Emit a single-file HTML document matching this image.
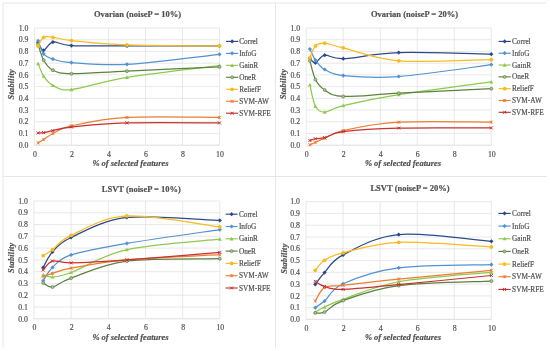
<!DOCTYPE html>
<html><head><meta charset="utf-8">
<style>
html,body{margin:0;padding:0;background:#fff;width:550px;height:351px;overflow:hidden}
svg{display:block;will-change:transform;filter:blur(0.3px)}
text{font-family:"Liberation Serif",serif;fill:#505050;stroke:#505050;stroke-width:0.18px}
.tk{font-size:7.8px}
.lg{font-size:7.3px}
.ti{font-size:8.5px;font-weight:bold}
.at{font-size:8.5px;font-weight:bold;font-style:italic}
.st{font-size:8.2px;letter-spacing:0.3px}
</style></head><body>
<svg width="550" height="351" viewBox="0 0 550 351">
<rect width="550" height="351" fill="#fff"/>
<line x1="3" y1="3" x2="546.5" y2="3" stroke="#E6E6E6" stroke-width="1"/>
<line x1="3" y1="3" x2="3" y2="347.5" stroke="#E6E6E6" stroke-width="1"/>
<line x1="275.5" y1="3" x2="275.5" y2="347.5" stroke="#E6E6E6" stroke-width="1"/>
<line x1="3" y1="176.5" x2="546.5" y2="176.5" stroke="#E6E6E6" stroke-width="1"/>
<line x1="34.4" y1="145.2" x2="219.5" y2="145.2" stroke="#D6D6D6" stroke-width="0.8"/>
<line x1="34.4" y1="133.48" x2="219.5" y2="133.48" stroke="#E2E2E2" stroke-width="0.8"/>
<line x1="34.4" y1="121.76" x2="219.5" y2="121.76" stroke="#E2E2E2" stroke-width="0.8"/>
<line x1="34.4" y1="110.04" x2="219.5" y2="110.04" stroke="#E2E2E2" stroke-width="0.8"/>
<line x1="34.4" y1="98.32" x2="219.5" y2="98.32" stroke="#E2E2E2" stroke-width="0.8"/>
<line x1="34.4" y1="86.6" x2="219.5" y2="86.6" stroke="#E2E2E2" stroke-width="0.8"/>
<line x1="34.4" y1="74.88" x2="219.5" y2="74.88" stroke="#E2E2E2" stroke-width="0.8"/>
<line x1="34.4" y1="63.16" x2="219.5" y2="63.16" stroke="#E2E2E2" stroke-width="0.8"/>
<line x1="34.4" y1="51.44" x2="219.5" y2="51.44" stroke="#E2E2E2" stroke-width="0.8"/>
<line x1="34.4" y1="39.72" x2="219.5" y2="39.72" stroke="#E2E2E2" stroke-width="0.8"/>
<line x1="34.4" y1="28" x2="219.5" y2="28" stroke="#E2E2E2" stroke-width="0.8"/>
<line x1="34.4" y1="28" x2="34.4" y2="145.2" stroke="#E2E2E2" stroke-width="0.8"/>
<line x1="71.42" y1="28" x2="71.42" y2="145.2" stroke="#E2E2E2" stroke-width="0.8"/>
<line x1="108.44" y1="28" x2="108.44" y2="145.2" stroke="#E2E2E2" stroke-width="0.8"/>
<line x1="145.46" y1="28" x2="145.46" y2="145.2" stroke="#E2E2E2" stroke-width="0.8"/>
<line x1="182.48" y1="28" x2="182.48" y2="145.2" stroke="#E2E2E2" stroke-width="0.8"/>
<line x1="219.5" y1="28" x2="219.5" y2="145.2" stroke="#E2E2E2" stroke-width="0.8"/>
<text x="28.4" y="147.9" text-anchor="end" class="tk">0.0</text>
<text x="28.4" y="136.18" text-anchor="end" class="tk">0.1</text>
<text x="28.4" y="124.46" text-anchor="end" class="tk">0.2</text>
<text x="28.4" y="112.74" text-anchor="end" class="tk">0.3</text>
<text x="28.4" y="101.02" text-anchor="end" class="tk">0.4</text>
<text x="28.4" y="89.3" text-anchor="end" class="tk">0.5</text>
<text x="28.4" y="77.58" text-anchor="end" class="tk">0.6</text>
<text x="28.4" y="65.86" text-anchor="end" class="tk">0.7</text>
<text x="28.4" y="54.14" text-anchor="end" class="tk">0.8</text>
<text x="28.4" y="42.42" text-anchor="end" class="tk">0.9</text>
<text x="28.4" y="30.7" text-anchor="end" class="tk">1.0</text>
<text x="34.9" y="157.2" text-anchor="middle" class="tk">0</text>
<text x="71.92" y="157.2" text-anchor="middle" class="tk">2</text>
<text x="108.94" y="157.2" text-anchor="middle" class="tk">4</text>
<text x="145.96" y="157.2" text-anchor="middle" class="tk">6</text>
<text x="182.98" y="157.2" text-anchor="middle" class="tk">8</text>
<text x="220" y="157.2" text-anchor="middle" class="tk">10</text>
<path d="M38.1,42.53 C39.03,43.82 41.19,50.35 43.66,50.27 C46.12,50.19 48.28,42.85 52.91,42.06 C57.54,41.28 59.08,44.94 71.42,45.58 C83.76,46.22 102.27,45.87 126.95,45.93 C151.63,45.99 204.07,45.93 219.5,45.93" fill="none" stroke="#2C4A8A" stroke-width="1.25"/>
<path d="M38.1,40.43 L40.2,42.53 L38.1,44.63 L36,42.53 Z" fill="#2C4A8A"/>
<path d="M43.66,48.17 L45.76,50.27 L43.66,52.37 L41.55,50.27 Z" fill="#2C4A8A"/>
<path d="M52.91,39.96 L55.01,42.06 L52.91,44.16 L50.81,42.06 Z" fill="#2C4A8A"/>
<path d="M71.42,43.48 L73.52,45.58 L71.42,47.68 L69.32,45.58 Z" fill="#2C4A8A"/>
<path d="M126.95,43.83 L129.05,45.93 L126.95,48.03 L124.85,45.93 Z" fill="#2C4A8A"/>
<path d="M219.5,43.83 L221.6,45.93 L219.5,48.03 L217.4,45.93 Z" fill="#2C4A8A"/>
<path d="M38.1,40.89 C39.03,43.04 41.19,50.76 43.66,53.78 C46.12,56.81 48.28,57.59 52.91,59.06 C57.54,60.52 59.08,61.69 71.42,62.57 C83.76,63.45 102.27,65.7 126.95,64.33 C151.63,62.96 204.07,56.03 219.5,54.37" fill="none" stroke="#5392D2" stroke-width="1.25"/>
<path d="M38.1,38.79 L40.2,40.89 L38.1,42.99 L36,40.89 Z" fill="#5392D2"/>
<path d="M43.66,51.68 L45.76,53.78 L43.66,55.88 L41.55,53.78 Z" fill="#5392D2"/>
<path d="M52.91,56.96 L55.01,59.06 L52.91,61.16 L50.81,59.06 Z" fill="#5392D2"/>
<path d="M71.42,60.47 L73.52,62.57 L71.42,64.67 L69.32,62.57 Z" fill="#5392D2"/>
<path d="M126.95,62.23 L129.05,64.33 L126.95,66.43 L124.85,64.33 Z" fill="#5392D2"/>
<path d="M219.5,52.27 L221.6,54.37 L219.5,56.47 L217.4,54.37 Z" fill="#5392D2"/>
<path d="M38.1,63.63 C39.03,65.7 41.19,72.42 43.66,76.05 C46.12,79.69 48.28,83.18 52.91,85.43 C57.54,87.67 59.08,90.88 71.42,89.53 C83.76,88.18 102.27,81.35 126.95,77.34 C151.63,73.34 204.07,67.48 219.5,65.5" fill="none" stroke="#8DCA4E" stroke-width="1.25"/>
<path d="M38.1,61.63 L40.1,65.23 L36.1,65.23 Z" fill="#8DCA4E"/>
<path d="M43.66,74.05 L45.66,77.65 L41.66,77.65 Z" fill="#8DCA4E"/>
<path d="M52.91,83.43 L54.91,87.03 L50.91,87.03 Z" fill="#8DCA4E"/>
<path d="M71.42,87.53 L73.42,91.13 L69.42,91.13 Z" fill="#8DCA4E"/>
<path d="M126.95,75.34 L128.95,78.94 L124.95,78.94 Z" fill="#8DCA4E"/>
<path d="M219.5,63.5 L221.5,67.1 L217.5,67.1 Z" fill="#8DCA4E"/>
<path d="M38.1,44.41 C39.03,47.05 41.19,55.93 43.66,60.23 C46.12,64.53 48.28,67.95 52.91,70.19 C57.54,72.44 59.08,73.55 71.42,73.71 C83.76,73.86 102.27,72.26 126.95,71.13 C151.63,70 204.07,67.61 219.5,66.91" fill="none" stroke="#5C8240" stroke-width="1.25"/>
<circle cx="38.1" cy="44.41" r="1.5" fill="#A9C49A" stroke="#5C8240" stroke-width="0.7"/>
<circle cx="43.66" cy="60.23" r="1.5" fill="#A9C49A" stroke="#5C8240" stroke-width="0.7"/>
<circle cx="52.91" cy="70.19" r="1.5" fill="#A9C49A" stroke="#5C8240" stroke-width="0.7"/>
<circle cx="71.42" cy="73.71" r="1.5" fill="#A9C49A" stroke="#5C8240" stroke-width="0.7"/>
<circle cx="126.95" cy="71.13" r="1.5" fill="#A9C49A" stroke="#5C8240" stroke-width="0.7"/>
<circle cx="219.5" cy="66.91" r="1.5" fill="#A9C49A" stroke="#5C8240" stroke-width="0.7"/>
<path d="M38.1,46.05 C39.03,44.6 41.19,38.82 43.66,37.38 C46.12,35.93 48.28,36.85 52.91,37.38 C57.54,37.9 59.08,39.27 71.42,40.54 C83.76,41.81 102.27,44.1 126.95,44.99 C151.63,45.89 204.07,45.78 219.5,45.93" fill="none" stroke="#F8BC20" stroke-width="1.25"/>
<circle cx="38.1" cy="46.05" r="1.9" fill="#F8BC20"/>
<circle cx="43.66" cy="37.38" r="1.9" fill="#F8BC20"/>
<circle cx="52.91" cy="37.38" r="1.9" fill="#F8BC20"/>
<circle cx="71.42" cy="40.54" r="1.9" fill="#F8BC20"/>
<circle cx="126.95" cy="44.99" r="1.9" fill="#F8BC20"/>
<circle cx="219.5" cy="45.93" r="1.9" fill="#F8BC20"/>
<path d="M38.1,142.86 C39.03,142.31 41.19,141.14 43.66,139.57 C46.12,138.01 48.28,135.77 52.91,133.48 C57.54,131.19 59.08,128.54 71.42,125.86 C83.76,123.19 102.27,118.83 126.95,117.42 C151.63,116.02 204.07,117.42 219.5,117.42" fill="none" stroke="#ED7D31" stroke-width="1.25"/>
<path d="M36.6,141.36 L39.6,144.36 M36.6,144.36 L39.6,141.36 M38.1,141.36 L38.1,144.36" stroke="#ED7D31" stroke-width="0.9"/>
<path d="M42.16,138.07 L45.16,141.07 M42.16,141.07 L45.16,138.07 M43.66,138.07 L43.66,141.07" stroke="#ED7D31" stroke-width="0.9"/>
<path d="M51.41,131.98 L54.41,134.98 M51.41,134.98 L54.41,131.98 M52.91,131.98 L52.91,134.98" stroke="#ED7D31" stroke-width="0.9"/>
<path d="M69.92,124.36 L72.92,127.36 M69.92,127.36 L72.92,124.36 M71.42,124.36 L71.42,127.36" stroke="#ED7D31" stroke-width="0.9"/>
<path d="M125.45,115.92 L128.45,118.92 M125.45,118.92 L128.45,115.92 M126.95,115.92 L126.95,118.92" stroke="#ED7D31" stroke-width="0.9"/>
<path d="M218,115.92 L221,118.92 M218,118.92 L221,115.92 M219.5,115.92 L219.5,118.92" stroke="#ED7D31" stroke-width="0.9"/>
<path d="M38.1,132.89 C39.03,132.85 41.19,133.05 43.66,132.66 C46.12,132.27 48.28,131.49 52.91,130.55 C57.54,129.61 59.08,128.3 71.42,127.03 C83.76,125.76 102.27,123.62 126.95,122.93 C151.63,122.25 204.07,122.93 219.5,122.93" fill="none" stroke="#C5322D" stroke-width="1.25"/>
<path d="M36.6,131.39 L39.6,134.39 M36.6,134.39 L39.6,131.39" stroke="#C5322D" stroke-width="1"/>
<path d="M42.16,131.16 L45.16,134.16 M42.16,134.16 L45.16,131.16" stroke="#C5322D" stroke-width="1"/>
<path d="M51.41,129.05 L54.41,132.05 M51.41,132.05 L54.41,129.05" stroke="#C5322D" stroke-width="1"/>
<path d="M69.92,125.53 L72.92,128.53 M69.92,128.53 L72.92,125.53" stroke="#C5322D" stroke-width="1"/>
<path d="M125.45,121.43 L128.45,124.43 M125.45,124.43 L128.45,121.43" stroke="#C5322D" stroke-width="1"/>
<path d="M218,121.43 L221,124.43 M218,124.43 L221,121.43" stroke="#C5322D" stroke-width="1"/>
<text x="137.5" y="17" text-anchor="middle" class="ti">Ovarian (noiseP = 10%)</text>
<text x="130.5" y="166" text-anchor="middle" class="at">% of selected features</text>
<text transform="translate(14.3,84.2) rotate(-90)" text-anchor="middle" class="at st">Stability</text>
<line x1="226" y1="41.4" x2="238.2" y2="41.4" stroke="#2C4A8A" stroke-width="1.15"/>
<path d="M232.1,39.3 L234.2,41.4 L232.1,43.5 L230,41.4 Z" fill="#2C4A8A"/>
<text x="239.2" y="43.9" class="lg">Correl</text>
<line x1="226" y1="53.37" x2="238.2" y2="53.37" stroke="#5392D2" stroke-width="1.15"/>
<path d="M232.1,51.27 L234.2,53.37 L232.1,55.47 L230,53.37 Z" fill="#5392D2"/>
<text x="239.2" y="55.87" class="lg">InfoG</text>
<line x1="226" y1="65.34" x2="238.2" y2="65.34" stroke="#8DCA4E" stroke-width="1.15"/>
<path d="M232.1,63.34 L234.1,66.94 L230.1,66.94 Z" fill="#8DCA4E"/>
<text x="239.2" y="67.84" class="lg">GainR</text>
<line x1="226" y1="77.31" x2="238.2" y2="77.31" stroke="#5C8240" stroke-width="1.15"/>
<circle cx="232.1" cy="77.31" r="1.5" fill="#A9C49A" stroke="#5C8240" stroke-width="0.7"/>
<text x="239.2" y="79.81" class="lg">OneR</text>
<line x1="226" y1="89.28" x2="238.2" y2="89.28" stroke="#F8BC20" stroke-width="1.15"/>
<circle cx="232.1" cy="89.28" r="1.9" fill="#F8BC20"/>
<text x="239.2" y="91.78" class="lg">ReliefF</text>
<line x1="226" y1="101.25" x2="238.2" y2="101.25" stroke="#ED7D31" stroke-width="1.15"/>
<path d="M230.6,99.75 L233.6,102.75 M230.6,102.75 L233.6,99.75 M232.1,99.75 L232.1,102.75" stroke="#ED7D31" stroke-width="0.9"/>
<text x="239.2" y="103.75" class="lg">SVM-AW</text>
<line x1="226" y1="113.22" x2="238.2" y2="113.22" stroke="#C5322D" stroke-width="1.15"/>
<path d="M230.6,111.72 L233.6,114.72 M230.6,114.72 L233.6,111.72" stroke="#C5322D" stroke-width="1"/>
<text x="239.2" y="115.72" class="lg">SVM-RFE</text>
<line x1="306.2" y1="145.2" x2="491.3" y2="145.2" stroke="#D6D6D6" stroke-width="0.8"/>
<line x1="306.2" y1="133.48" x2="491.3" y2="133.48" stroke="#E2E2E2" stroke-width="0.8"/>
<line x1="306.2" y1="121.76" x2="491.3" y2="121.76" stroke="#E2E2E2" stroke-width="0.8"/>
<line x1="306.2" y1="110.04" x2="491.3" y2="110.04" stroke="#E2E2E2" stroke-width="0.8"/>
<line x1="306.2" y1="98.32" x2="491.3" y2="98.32" stroke="#E2E2E2" stroke-width="0.8"/>
<line x1="306.2" y1="86.6" x2="491.3" y2="86.6" stroke="#E2E2E2" stroke-width="0.8"/>
<line x1="306.2" y1="74.88" x2="491.3" y2="74.88" stroke="#E2E2E2" stroke-width="0.8"/>
<line x1="306.2" y1="63.16" x2="491.3" y2="63.16" stroke="#E2E2E2" stroke-width="0.8"/>
<line x1="306.2" y1="51.44" x2="491.3" y2="51.44" stroke="#E2E2E2" stroke-width="0.8"/>
<line x1="306.2" y1="39.72" x2="491.3" y2="39.72" stroke="#E2E2E2" stroke-width="0.8"/>
<line x1="306.2" y1="28" x2="491.3" y2="28" stroke="#E2E2E2" stroke-width="0.8"/>
<line x1="306.2" y1="28" x2="306.2" y2="145.2" stroke="#E2E2E2" stroke-width="0.8"/>
<line x1="343.22" y1="28" x2="343.22" y2="145.2" stroke="#E2E2E2" stroke-width="0.8"/>
<line x1="380.24" y1="28" x2="380.24" y2="145.2" stroke="#E2E2E2" stroke-width="0.8"/>
<line x1="417.26" y1="28" x2="417.26" y2="145.2" stroke="#E2E2E2" stroke-width="0.8"/>
<line x1="454.28" y1="28" x2="454.28" y2="145.2" stroke="#E2E2E2" stroke-width="0.8"/>
<line x1="491.3" y1="28" x2="491.3" y2="145.2" stroke="#E2E2E2" stroke-width="0.8"/>
<text x="300.2" y="147.9" text-anchor="end" class="tk">0.0</text>
<text x="300.2" y="136.18" text-anchor="end" class="tk">0.1</text>
<text x="300.2" y="124.46" text-anchor="end" class="tk">0.2</text>
<text x="300.2" y="112.74" text-anchor="end" class="tk">0.3</text>
<text x="300.2" y="101.02" text-anchor="end" class="tk">0.4</text>
<text x="300.2" y="89.3" text-anchor="end" class="tk">0.5</text>
<text x="300.2" y="77.58" text-anchor="end" class="tk">0.6</text>
<text x="300.2" y="65.86" text-anchor="end" class="tk">0.7</text>
<text x="300.2" y="54.14" text-anchor="end" class="tk">0.8</text>
<text x="300.2" y="42.42" text-anchor="end" class="tk">0.9</text>
<text x="300.2" y="30.7" text-anchor="end" class="tk">1.0</text>
<text x="306.7" y="157.2" text-anchor="middle" class="tk">0</text>
<text x="343.72" y="157.2" text-anchor="middle" class="tk">2</text>
<text x="380.74" y="157.2" text-anchor="middle" class="tk">4</text>
<text x="417.76" y="157.2" text-anchor="middle" class="tk">6</text>
<text x="454.78" y="157.2" text-anchor="middle" class="tk">8</text>
<text x="491.8" y="157.2" text-anchor="middle" class="tk">10</text>
<path d="M309.9,58.47 C310.83,59.19 312.99,63.36 315.45,62.81 C317.92,62.26 320.08,55.87 324.71,55.19 C329.34,54.51 330.88,59.14 343.22,58.71 C355.56,58.28 374.07,53.37 398.75,52.61 C423.43,51.85 475.88,53.88 491.3,54.14" fill="none" stroke="#2C4A8A" stroke-width="1.25"/>
<path d="M309.9,56.37 L312,58.47 L309.9,60.57 L307.8,58.47 Z" fill="#2C4A8A"/>
<path d="M315.45,60.71 L317.56,62.81 L315.45,64.91 L313.35,62.81 Z" fill="#2C4A8A"/>
<path d="M324.71,53.09 L326.81,55.19 L324.71,57.29 L322.61,55.19 Z" fill="#2C4A8A"/>
<path d="M343.22,56.61 L345.32,58.71 L343.22,60.81 L341.12,58.71 Z" fill="#2C4A8A"/>
<path d="M398.75,50.51 L400.85,52.61 L398.75,54.71 L396.65,52.61 Z" fill="#2C4A8A"/>
<path d="M491.3,52.04 L493.4,54.14 L491.3,56.24 L489.2,54.14 Z" fill="#2C4A8A"/>
<path d="M309.9,49.1 C310.83,50.93 312.99,56.71 315.45,60.11 C317.92,63.51 320.08,66.91 324.71,69.49 C329.34,72.07 330.88,74.41 343.22,75.58 C355.56,76.76 374.07,78.34 398.75,76.52 C423.43,74.7 475.88,66.66 491.3,64.68" fill="none" stroke="#5392D2" stroke-width="1.25"/>
<path d="M309.9,47 L312,49.1 L309.9,51.2 L307.8,49.1 Z" fill="#5392D2"/>
<path d="M315.45,58.01 L317.56,60.11 L315.45,62.21 L313.35,60.11 Z" fill="#5392D2"/>
<path d="M324.71,67.39 L326.81,69.49 L324.71,71.59 L322.61,69.49 Z" fill="#5392D2"/>
<path d="M343.22,73.48 L345.32,75.58 L343.22,77.68 L341.12,75.58 Z" fill="#5392D2"/>
<path d="M398.75,74.42 L400.85,76.52 L398.75,78.62 L396.65,76.52 Z" fill="#5392D2"/>
<path d="M491.3,62.58 L493.4,64.68 L491.3,66.78 L489.2,64.68 Z" fill="#5392D2"/>
<path d="M309.9,84.96 C310.83,88.51 312.99,101.76 315.45,106.29 C317.92,110.82 320.08,112.27 324.71,112.15 C329.34,112.03 330.88,108.5 343.22,105.59 C355.56,102.68 374.07,98.63 398.75,94.69 C423.43,90.74 475.88,84.04 491.3,81.91" fill="none" stroke="#8DCA4E" stroke-width="1.25"/>
<path d="M309.9,82.96 L311.9,86.56 L307.9,86.56 Z" fill="#8DCA4E"/>
<path d="M315.45,104.29 L317.45,107.89 L313.45,107.89 Z" fill="#8DCA4E"/>
<path d="M324.71,110.15 L326.71,113.75 L322.71,113.75 Z" fill="#8DCA4E"/>
<path d="M343.22,103.59 L345.22,107.19 L341.22,107.19 Z" fill="#8DCA4E"/>
<path d="M398.75,92.69 L400.75,96.29 L396.75,96.29 Z" fill="#8DCA4E"/>
<path d="M491.3,79.91 L493.3,83.51 L489.3,83.51 Z" fill="#8DCA4E"/>
<path d="M309.9,60.82 C310.83,63.94 312.99,74.7 315.45,79.57 C317.92,84.43 320.08,87.19 324.71,90 C329.34,92.81 330.88,95.92 343.22,96.44 C355.56,96.97 374.07,94.45 398.75,93.16 C423.43,91.87 475.88,89.45 491.3,88.71" fill="none" stroke="#5C8240" stroke-width="1.25"/>
<circle cx="309.9" cy="60.82" r="1.5" fill="#A9C49A" stroke="#5C8240" stroke-width="0.7"/>
<circle cx="315.45" cy="79.57" r="1.5" fill="#A9C49A" stroke="#5C8240" stroke-width="0.7"/>
<circle cx="324.71" cy="90" r="1.5" fill="#A9C49A" stroke="#5C8240" stroke-width="0.7"/>
<circle cx="343.22" cy="96.44" r="1.5" fill="#A9C49A" stroke="#5C8240" stroke-width="0.7"/>
<circle cx="398.75" cy="93.16" r="1.5" fill="#A9C49A" stroke="#5C8240" stroke-width="0.7"/>
<circle cx="491.3" cy="88.71" r="1.5" fill="#A9C49A" stroke="#5C8240" stroke-width="0.7"/>
<path d="M309.9,57.77 C310.83,55.8 312.99,48.35 315.45,45.93 C317.92,43.51 320.08,42.9 324.71,43.24 C329.34,43.57 330.88,44.99 343.22,47.92 C355.56,50.85 374.07,58.86 398.75,60.82 C423.43,62.77 475.88,59.84 491.3,59.64" fill="none" stroke="#F8BC20" stroke-width="1.25"/>
<circle cx="309.9" cy="57.77" r="1.9" fill="#F8BC20"/>
<circle cx="315.45" cy="45.93" r="1.9" fill="#F8BC20"/>
<circle cx="324.71" cy="43.24" r="1.9" fill="#F8BC20"/>
<circle cx="343.22" cy="47.92" r="1.9" fill="#F8BC20"/>
<circle cx="398.75" cy="60.82" r="1.9" fill="#F8BC20"/>
<circle cx="491.3" cy="59.64" r="1.9" fill="#F8BC20"/>
<path d="M309.9,144.85 C310.83,144.42 312.99,143.38 315.45,142.27 C317.92,141.16 320.08,140.12 324.71,138.17 C329.34,136.21 330.88,133.21 343.22,130.55 C355.56,127.89 374.07,123.64 398.75,122.23 C423.43,120.82 475.88,122.13 491.3,122.11" fill="none" stroke="#ED7D31" stroke-width="1.25"/>
<path d="M308.4,143.35 L311.4,146.35 M308.4,146.35 L311.4,143.35 M309.9,143.35 L309.9,146.35" stroke="#ED7D31" stroke-width="0.9"/>
<path d="M313.95,140.77 L316.95,143.77 M313.95,143.77 L316.95,140.77 M315.45,140.77 L315.45,143.77" stroke="#ED7D31" stroke-width="0.9"/>
<path d="M323.21,136.67 L326.21,139.67 M323.21,139.67 L326.21,136.67 M324.71,136.67 L324.71,139.67" stroke="#ED7D31" stroke-width="0.9"/>
<path d="M341.72,129.05 L344.72,132.05 M341.72,132.05 L344.72,129.05 M343.22,129.05 L343.22,132.05" stroke="#ED7D31" stroke-width="0.9"/>
<path d="M397.25,120.73 L400.25,123.73 M397.25,123.73 L400.25,120.73 M398.75,120.73 L398.75,123.73" stroke="#ED7D31" stroke-width="0.9"/>
<path d="M489.8,120.61 L492.8,123.61 M489.8,123.61 L492.8,120.61 M491.3,120.61 L491.3,123.61" stroke="#ED7D31" stroke-width="0.9"/>
<path d="M309.9,140.51 C310.83,140.22 312.99,139.22 315.45,138.75 C317.92,138.29 320.08,138.87 324.71,137.7 C329.34,136.53 330.88,133.32 343.22,131.72 C355.56,130.12 374.07,128.71 398.75,128.09 C423.43,127.46 475.88,127.99 491.3,127.97" fill="none" stroke="#C5322D" stroke-width="1.25"/>
<path d="M308.4,139.01 L311.4,142.01 M308.4,142.01 L311.4,139.01" stroke="#C5322D" stroke-width="1"/>
<path d="M313.95,137.25 L316.95,140.25 M313.95,140.25 L316.95,137.25" stroke="#C5322D" stroke-width="1"/>
<path d="M323.21,136.2 L326.21,139.2 M323.21,139.2 L326.21,136.2" stroke="#C5322D" stroke-width="1"/>
<path d="M341.72,130.22 L344.72,133.22 M341.72,133.22 L344.72,130.22" stroke="#C5322D" stroke-width="1"/>
<path d="M397.25,126.59 L400.25,129.59 M397.25,129.59 L400.25,126.59" stroke="#C5322D" stroke-width="1"/>
<path d="M489.8,126.47 L492.8,129.47 M489.8,129.47 L492.8,126.47" stroke="#C5322D" stroke-width="1"/>
<text x="414.5" y="17" text-anchor="middle" class="ti">Ovarian (noiseP = 20%)</text>
<text x="403" y="166" text-anchor="middle" class="at">% of selected features</text>
<text transform="translate(286.3,84.1) rotate(-90)" text-anchor="middle" class="at st">Stability</text>
<line x1="498.6" y1="41.4" x2="510.8" y2="41.4" stroke="#2C4A8A" stroke-width="1.15"/>
<path d="M504.7,39.3 L506.8,41.4 L504.7,43.5 L502.6,41.4 Z" fill="#2C4A8A"/>
<text x="512" y="43.9" class="lg">Correl</text>
<line x1="498.6" y1="53.22" x2="510.8" y2="53.22" stroke="#5392D2" stroke-width="1.15"/>
<path d="M504.7,51.12 L506.8,53.22 L504.7,55.32 L502.6,53.22 Z" fill="#5392D2"/>
<text x="512" y="55.72" class="lg">InfoG</text>
<line x1="498.6" y1="65.04" x2="510.8" y2="65.04" stroke="#8DCA4E" stroke-width="1.15"/>
<path d="M504.7,63.04 L506.7,66.64 L502.7,66.64 Z" fill="#8DCA4E"/>
<text x="512" y="67.54" class="lg">GainR</text>
<line x1="498.6" y1="76.86" x2="510.8" y2="76.86" stroke="#5C8240" stroke-width="1.15"/>
<circle cx="504.7" cy="76.86" r="1.5" fill="#A9C49A" stroke="#5C8240" stroke-width="0.7"/>
<text x="512" y="79.36" class="lg">OneR</text>
<line x1="498.6" y1="88.68" x2="510.8" y2="88.68" stroke="#F8BC20" stroke-width="1.15"/>
<circle cx="504.7" cy="88.68" r="1.9" fill="#F8BC20"/>
<text x="512" y="91.18" class="lg">ReliefF</text>
<line x1="498.6" y1="100.5" x2="510.8" y2="100.5" stroke="#ED7D31" stroke-width="1.15"/>
<path d="M503.2,99 L506.2,102 M503.2,102 L506.2,99 M504.7,99 L504.7,102" stroke="#ED7D31" stroke-width="0.9"/>
<text x="512" y="103" class="lg">SVM-AW</text>
<line x1="498.6" y1="112.32" x2="510.8" y2="112.32" stroke="#C5322D" stroke-width="1.15"/>
<path d="M503.2,110.82 L506.2,113.82 M503.2,113.82 L506.2,110.82" stroke="#C5322D" stroke-width="1"/>
<text x="512" y="114.82" class="lg">SVM-RFE</text>
<line x1="33.9" y1="318.8" x2="219.8" y2="318.8" stroke="#D6D6D6" stroke-width="0.8"/>
<line x1="33.9" y1="307.02" x2="219.8" y2="307.02" stroke="#E2E2E2" stroke-width="0.8"/>
<line x1="33.9" y1="295.24" x2="219.8" y2="295.24" stroke="#E2E2E2" stroke-width="0.8"/>
<line x1="33.9" y1="283.46" x2="219.8" y2="283.46" stroke="#E2E2E2" stroke-width="0.8"/>
<line x1="33.9" y1="271.68" x2="219.8" y2="271.68" stroke="#E2E2E2" stroke-width="0.8"/>
<line x1="33.9" y1="259.9" x2="219.8" y2="259.9" stroke="#E2E2E2" stroke-width="0.8"/>
<line x1="33.9" y1="248.12" x2="219.8" y2="248.12" stroke="#E2E2E2" stroke-width="0.8"/>
<line x1="33.9" y1="236.34" x2="219.8" y2="236.34" stroke="#E2E2E2" stroke-width="0.8"/>
<line x1="33.9" y1="224.56" x2="219.8" y2="224.56" stroke="#E2E2E2" stroke-width="0.8"/>
<line x1="33.9" y1="212.78" x2="219.8" y2="212.78" stroke="#E2E2E2" stroke-width="0.8"/>
<line x1="33.9" y1="201" x2="219.8" y2="201" stroke="#E2E2E2" stroke-width="0.8"/>
<line x1="33.9" y1="201" x2="33.9" y2="318.8" stroke="#E2E2E2" stroke-width="0.8"/>
<line x1="71.08" y1="201" x2="71.08" y2="318.8" stroke="#E2E2E2" stroke-width="0.8"/>
<line x1="108.26" y1="201" x2="108.26" y2="318.8" stroke="#E2E2E2" stroke-width="0.8"/>
<line x1="145.44" y1="201" x2="145.44" y2="318.8" stroke="#E2E2E2" stroke-width="0.8"/>
<line x1="182.62" y1="201" x2="182.62" y2="318.8" stroke="#E2E2E2" stroke-width="0.8"/>
<line x1="219.8" y1="201" x2="219.8" y2="318.8" stroke="#E2E2E2" stroke-width="0.8"/>
<text x="27.9" y="321.5" text-anchor="end" class="tk">0.0</text>
<text x="27.9" y="309.72" text-anchor="end" class="tk">0.1</text>
<text x="27.9" y="297.94" text-anchor="end" class="tk">0.2</text>
<text x="27.9" y="286.16" text-anchor="end" class="tk">0.3</text>
<text x="27.9" y="274.38" text-anchor="end" class="tk">0.4</text>
<text x="27.9" y="262.6" text-anchor="end" class="tk">0.5</text>
<text x="27.9" y="250.82" text-anchor="end" class="tk">0.6</text>
<text x="27.9" y="239.04" text-anchor="end" class="tk">0.7</text>
<text x="27.9" y="227.26" text-anchor="end" class="tk">0.8</text>
<text x="27.9" y="215.48" text-anchor="end" class="tk">0.9</text>
<text x="27.9" y="203.7" text-anchor="end" class="tk">1.0</text>
<text x="34.4" y="330.2" text-anchor="middle" class="tk">0</text>
<text x="71.58" y="330.2" text-anchor="middle" class="tk">2</text>
<text x="108.76" y="330.2" text-anchor="middle" class="tk">4</text>
<text x="145.94" y="330.2" text-anchor="middle" class="tk">6</text>
<text x="183.12" y="330.2" text-anchor="middle" class="tk">8</text>
<text x="220.3" y="330.2" text-anchor="middle" class="tk">10</text>
<path d="M43.2,267.44 C44.74,264.85 47.84,256.88 52.49,251.89 C57.14,246.9 58.69,243.25 71.08,237.52 C83.47,231.79 102.06,220.34 126.85,217.49 C151.64,214.65 204.31,219.95 219.8,220.44" fill="none" stroke="#2C4A8A" stroke-width="1.25"/>
<path d="M43.2,265.34 L45.3,267.44 L43.2,269.54 L41.09,267.44 Z" fill="#2C4A8A"/>
<path d="M52.49,249.79 L54.59,251.89 L52.49,253.99 L50.39,251.89 Z" fill="#2C4A8A"/>
<path d="M71.08,235.42 L73.18,237.52 L71.08,239.62 L68.98,237.52 Z" fill="#2C4A8A"/>
<path d="M126.85,215.39 L128.95,217.49 L126.85,219.59 L124.75,217.49 Z" fill="#2C4A8A"/>
<path d="M219.8,218.34 L221.9,220.44 L219.8,222.54 L217.7,220.44 Z" fill="#2C4A8A"/>
<path d="M43.2,280.63 C44.74,278.43 47.84,271.72 52.49,267.44 C57.14,263.16 58.69,258.96 71.08,254.95 C83.47,250.95 102.06,247.63 126.85,243.41 C151.64,239.19 204.31,231.92 219.8,229.63" fill="none" stroke="#5392D2" stroke-width="1.25"/>
<path d="M43.2,278.53 L45.3,280.63 L43.2,282.73 L41.09,280.63 Z" fill="#5392D2"/>
<path d="M52.49,265.34 L54.59,267.44 L52.49,269.54 L50.39,267.44 Z" fill="#5392D2"/>
<path d="M71.08,252.85 L73.18,254.95 L71.08,257.05 L68.98,254.95 Z" fill="#5392D2"/>
<path d="M126.85,241.31 L128.95,243.41 L126.85,245.51 L124.75,243.41 Z" fill="#5392D2"/>
<path d="M219.8,227.53 L221.9,229.63 L219.8,231.73 L217.7,229.63 Z" fill="#5392D2"/>
<path d="M43.2,274.86 C44.74,275.21 47.84,277.37 52.49,276.98 C57.14,276.59 58.69,277.06 71.08,272.5 C83.47,267.95 102.06,255.21 126.85,249.65 C151.64,244.1 204.31,240.91 219.8,239.17" fill="none" stroke="#8DCA4E" stroke-width="1.25"/>
<path d="M43.2,272.86 L45.2,276.46 L41.2,276.46 Z" fill="#8DCA4E"/>
<path d="M52.49,274.98 L54.49,278.58 L50.49,278.58 Z" fill="#8DCA4E"/>
<path d="M71.08,270.5 L73.08,274.1 L69.08,274.1 Z" fill="#8DCA4E"/>
<path d="M126.85,247.65 L128.85,251.25 L124.85,251.25 Z" fill="#8DCA4E"/>
<path d="M219.8,237.17 L221.8,240.77 L217.8,240.77 Z" fill="#8DCA4E"/>
<path d="M43.2,282.99 C44.74,283.66 47.84,287.82 52.49,286.99 C57.14,286.17 58.69,282.36 71.08,278.04 C83.47,273.72 102.06,264.3 126.85,261.08 C151.64,257.86 204.31,259.11 219.8,258.72" fill="none" stroke="#5C8240" stroke-width="1.25"/>
<circle cx="43.2" cy="282.99" r="1.5" fill="#A9C49A" stroke="#5C8240" stroke-width="0.7"/>
<circle cx="52.49" cy="286.99" r="1.5" fill="#A9C49A" stroke="#5C8240" stroke-width="0.7"/>
<circle cx="71.08" cy="278.04" r="1.5" fill="#A9C49A" stroke="#5C8240" stroke-width="0.7"/>
<circle cx="126.85" cy="261.08" r="1.5" fill="#A9C49A" stroke="#5C8240" stroke-width="0.7"/>
<circle cx="219.8" cy="258.72" r="1.5" fill="#A9C49A" stroke="#5C8240" stroke-width="0.7"/>
<path d="M43.2,255.66 C44.74,254.68 47.84,253.15 52.49,249.77 C57.14,246.39 58.69,241.03 71.08,235.4 C83.47,229.76 102.06,217.37 126.85,215.96 C151.64,214.55 204.31,225.09 219.8,226.92" fill="none" stroke="#F8BC20" stroke-width="1.25"/>
<circle cx="43.2" cy="255.66" r="1.9" fill="#F8BC20"/>
<circle cx="52.49" cy="249.77" r="1.9" fill="#F8BC20"/>
<circle cx="71.08" cy="235.4" r="1.9" fill="#F8BC20"/>
<circle cx="126.85" cy="215.96" r="1.9" fill="#F8BC20"/>
<circle cx="219.8" cy="226.92" r="1.9" fill="#F8BC20"/>
<path d="M43.2,276.39 C44.74,275.9 47.84,274.82 52.49,273.45 C57.14,272.07 58.69,270.4 71.08,268.15 C83.47,265.89 102.06,262.14 126.85,259.9 C151.64,257.66 204.31,255.58 219.8,254.72" fill="none" stroke="#ED7D31" stroke-width="1.25"/>
<path d="M41.7,274.89 L44.7,277.89 M41.7,277.89 L44.7,274.89 M43.2,274.89 L43.2,277.89" stroke="#ED7D31" stroke-width="0.9"/>
<path d="M50.99,271.95 L53.99,274.95 M50.99,274.95 L53.99,271.95 M52.49,271.95 L52.49,274.95" stroke="#ED7D31" stroke-width="0.9"/>
<path d="M69.58,266.65 L72.58,269.65 M69.58,269.65 L72.58,266.65 M71.08,266.65 L71.08,269.65" stroke="#ED7D31" stroke-width="0.9"/>
<path d="M125.35,258.4 L128.35,261.4 M125.35,261.4 L128.35,258.4 M126.85,258.4 L126.85,261.4" stroke="#ED7D31" stroke-width="0.9"/>
<path d="M218.3,253.22 L221.3,256.22 M218.3,256.22 L221.3,253.22 M219.8,253.22 L219.8,256.22" stroke="#ED7D31" stroke-width="0.9"/>
<path d="M43.2,270.03 C44.74,268.54 47.84,262.28 52.49,261.08 C57.14,259.88 58.69,263.04 71.08,262.85 C83.47,262.65 102.06,261.63 126.85,259.9 C151.64,258.17 204.31,253.72 219.8,252.48" fill="none" stroke="#C5322D" stroke-width="1.25"/>
<path d="M41.7,268.53 L44.7,271.53 M41.7,271.53 L44.7,268.53" stroke="#C5322D" stroke-width="1"/>
<path d="M50.99,259.58 L53.99,262.58 M50.99,262.58 L53.99,259.58" stroke="#C5322D" stroke-width="1"/>
<path d="M69.58,261.35 L72.58,264.35 M69.58,264.35 L72.58,261.35" stroke="#C5322D" stroke-width="1"/>
<path d="M125.35,258.4 L128.35,261.4 M125.35,261.4 L128.35,258.4" stroke="#C5322D" stroke-width="1"/>
<path d="M218.3,250.98 L221.3,253.98 M218.3,253.98 L221.3,250.98" stroke="#C5322D" stroke-width="1"/>
<text x="141.3" y="191.5" text-anchor="middle" class="ti">LSVT (noiseP = 10%)</text>
<text x="130.5" y="340" text-anchor="middle" class="at">% of selected features</text>
<text transform="translate(14.3,257.7) rotate(-90)" text-anchor="middle" class="at st">Stability</text>
<line x1="225.6" y1="214.2" x2="237.6" y2="214.2" stroke="#2C4A8A" stroke-width="1.15"/>
<path d="M231.6,212.1 L233.7,214.2 L231.6,216.3 L229.5,214.2 Z" fill="#2C4A8A"/>
<text x="238.9" y="216.7" class="lg">Correl</text>
<line x1="225.6" y1="226.5" x2="237.6" y2="226.5" stroke="#5392D2" stroke-width="1.15"/>
<path d="M231.6,224.4 L233.7,226.5 L231.6,228.6 L229.5,226.5 Z" fill="#5392D2"/>
<text x="238.9" y="229" class="lg">InfoG</text>
<line x1="225.6" y1="238.8" x2="237.6" y2="238.8" stroke="#8DCA4E" stroke-width="1.15"/>
<path d="M231.6,236.8 L233.6,240.4 L229.6,240.4 Z" fill="#8DCA4E"/>
<text x="238.9" y="241.3" class="lg">GainR</text>
<line x1="225.6" y1="251.1" x2="237.6" y2="251.1" stroke="#5C8240" stroke-width="1.15"/>
<circle cx="231.6" cy="251.1" r="1.5" fill="#A9C49A" stroke="#5C8240" stroke-width="0.7"/>
<text x="238.9" y="253.6" class="lg">OneR</text>
<line x1="225.6" y1="263.4" x2="237.6" y2="263.4" stroke="#F8BC20" stroke-width="1.15"/>
<circle cx="231.6" cy="263.4" r="1.9" fill="#F8BC20"/>
<text x="238.9" y="265.9" class="lg">ReliefF</text>
<line x1="225.6" y1="275.7" x2="237.6" y2="275.7" stroke="#ED7D31" stroke-width="1.15"/>
<path d="M230.1,274.2 L233.1,277.2 M230.1,277.2 L233.1,274.2 M231.6,274.2 L231.6,277.2" stroke="#ED7D31" stroke-width="0.9"/>
<text x="238.9" y="278.2" class="lg">SVM-AW</text>
<line x1="225.6" y1="288" x2="237.6" y2="288" stroke="#C5322D" stroke-width="1.15"/>
<path d="M230.1,286.5 L233.1,289.5 M230.1,289.5 L233.1,286.5" stroke="#C5322D" stroke-width="1"/>
<text x="238.9" y="290.5" class="lg">SVM-RFE</text>
<line x1="306" y1="319.4" x2="491.4" y2="319.4" stroke="#D6D6D6" stroke-width="0.8"/>
<line x1="306" y1="307.63" x2="491.4" y2="307.63" stroke="#E2E2E2" stroke-width="0.8"/>
<line x1="306" y1="295.86" x2="491.4" y2="295.86" stroke="#E2E2E2" stroke-width="0.8"/>
<line x1="306" y1="284.09" x2="491.4" y2="284.09" stroke="#E2E2E2" stroke-width="0.8"/>
<line x1="306" y1="272.32" x2="491.4" y2="272.32" stroke="#E2E2E2" stroke-width="0.8"/>
<line x1="306" y1="260.55" x2="491.4" y2="260.55" stroke="#E2E2E2" stroke-width="0.8"/>
<line x1="306" y1="248.78" x2="491.4" y2="248.78" stroke="#E2E2E2" stroke-width="0.8"/>
<line x1="306" y1="237.01" x2="491.4" y2="237.01" stroke="#E2E2E2" stroke-width="0.8"/>
<line x1="306" y1="225.24" x2="491.4" y2="225.24" stroke="#E2E2E2" stroke-width="0.8"/>
<line x1="306" y1="213.47" x2="491.4" y2="213.47" stroke="#E2E2E2" stroke-width="0.8"/>
<line x1="306" y1="201.7" x2="491.4" y2="201.7" stroke="#E2E2E2" stroke-width="0.8"/>
<line x1="306" y1="201.7" x2="306" y2="319.4" stroke="#E2E2E2" stroke-width="0.8"/>
<line x1="343.08" y1="201.7" x2="343.08" y2="319.4" stroke="#E2E2E2" stroke-width="0.8"/>
<line x1="380.16" y1="201.7" x2="380.16" y2="319.4" stroke="#E2E2E2" stroke-width="0.8"/>
<line x1="417.24" y1="201.7" x2="417.24" y2="319.4" stroke="#E2E2E2" stroke-width="0.8"/>
<line x1="454.32" y1="201.7" x2="454.32" y2="319.4" stroke="#E2E2E2" stroke-width="0.8"/>
<line x1="491.4" y1="201.7" x2="491.4" y2="319.4" stroke="#E2E2E2" stroke-width="0.8"/>
<text x="300" y="322.1" text-anchor="end" class="tk">0.0</text>
<text x="300" y="310.33" text-anchor="end" class="tk">0.1</text>
<text x="300" y="298.56" text-anchor="end" class="tk">0.2</text>
<text x="300" y="286.79" text-anchor="end" class="tk">0.3</text>
<text x="300" y="275.02" text-anchor="end" class="tk">0.4</text>
<text x="300" y="263.25" text-anchor="end" class="tk">0.5</text>
<text x="300" y="251.48" text-anchor="end" class="tk">0.6</text>
<text x="300" y="239.71" text-anchor="end" class="tk">0.7</text>
<text x="300" y="227.94" text-anchor="end" class="tk">0.8</text>
<text x="300" y="216.17" text-anchor="end" class="tk">0.9</text>
<text x="300" y="204.4" text-anchor="end" class="tk">1.0</text>
<text x="306.5" y="331.2" text-anchor="middle" class="tk">0</text>
<text x="343.58" y="331.2" text-anchor="middle" class="tk">2</text>
<text x="380.66" y="331.2" text-anchor="middle" class="tk">4</text>
<text x="417.74" y="331.2" text-anchor="middle" class="tk">6</text>
<text x="454.82" y="331.2" text-anchor="middle" class="tk">8</text>
<text x="491.9" y="331.2" text-anchor="middle" class="tk">10</text>
<path d="M315.27,284.33 C316.81,282.36 319.91,277.46 324.54,272.56 C329.18,267.65 330.72,261.24 343.08,254.9 C355.44,248.56 373.98,236.79 398.7,234.54 C423.42,232.28 475.95,240.23 491.4,241.36" fill="none" stroke="#2C4A8A" stroke-width="1.25"/>
<path d="M315.27,282.23 L317.37,284.33 L315.27,286.43 L313.17,284.33 Z" fill="#2C4A8A"/>
<path d="M324.54,270.46 L326.64,272.56 L324.54,274.66 L322.44,272.56 Z" fill="#2C4A8A"/>
<path d="M343.08,252.8 L345.18,254.9 L343.08,257 L340.98,254.9 Z" fill="#2C4A8A"/>
<path d="M398.7,232.44 L400.8,234.54 L398.7,236.64 L396.6,234.54 Z" fill="#2C4A8A"/>
<path d="M491.4,239.26 L493.5,241.36 L491.4,243.46 L489.3,241.36 Z" fill="#2C4A8A"/>
<path d="M315.27,307.63 C316.81,306.53 319.91,305.02 324.54,301.04 C329.18,297.06 330.72,289.27 343.08,283.74 C355.44,278.2 373.98,271.04 398.7,267.85 C423.42,264.65 475.95,265.1 491.4,264.55" fill="none" stroke="#5392D2" stroke-width="1.25"/>
<path d="M315.27,305.53 L317.37,307.63 L315.27,309.73 L313.17,307.63 Z" fill="#5392D2"/>
<path d="M324.54,298.94 L326.64,301.04 L324.54,303.14 L322.44,301.04 Z" fill="#5392D2"/>
<path d="M343.08,281.64 L345.18,283.74 L343.08,285.84 L340.98,283.74 Z" fill="#5392D2"/>
<path d="M398.7,265.75 L400.8,267.85 L398.7,269.95 L396.6,267.85 Z" fill="#5392D2"/>
<path d="M491.4,262.45 L493.5,264.55 L491.4,266.65 L489.3,264.55 Z" fill="#5392D2"/>
<path d="M315.27,312.1 C316.81,311.26 319.91,309.16 324.54,307.04 C329.18,304.92 330.72,303.61 343.08,299.39 C355.44,295.17 373.98,286.25 398.7,281.74 C423.42,277.22 475.95,273.89 491.4,272.32" fill="none" stroke="#8DCA4E" stroke-width="1.25"/>
<path d="M315.27,310.1 L317.27,313.7 L313.27,313.7 Z" fill="#8DCA4E"/>
<path d="M324.54,305.04 L326.54,308.64 L322.54,308.64 Z" fill="#8DCA4E"/>
<path d="M343.08,297.39 L345.08,300.99 L341.08,300.99 Z" fill="#8DCA4E"/>
<path d="M398.7,279.74 L400.7,283.34 L396.7,283.34 Z" fill="#8DCA4E"/>
<path d="M491.4,270.32 L493.4,273.92 L489.4,273.92 Z" fill="#8DCA4E"/>
<path d="M315.27,312.93 C316.81,312.79 319.91,314.16 324.54,312.1 C329.18,310.04 330.72,304.98 343.08,300.57 C355.44,296.15 373.98,288.88 398.7,285.62 C423.42,282.36 475.95,281.79 491.4,281.03" fill="none" stroke="#5C8240" stroke-width="1.25"/>
<circle cx="315.27" cy="312.93" r="1.5" fill="#A9C49A" stroke="#5C8240" stroke-width="0.7"/>
<circle cx="324.54" cy="312.1" r="1.5" fill="#A9C49A" stroke="#5C8240" stroke-width="0.7"/>
<circle cx="343.08" cy="300.57" r="1.5" fill="#A9C49A" stroke="#5C8240" stroke-width="0.7"/>
<circle cx="398.7" cy="285.62" r="1.5" fill="#A9C49A" stroke="#5C8240" stroke-width="0.7"/>
<circle cx="491.4" cy="281.03" r="1.5" fill="#A9C49A" stroke="#5C8240" stroke-width="0.7"/>
<path d="M315.27,270.32 C316.81,268.65 319.91,263.24 324.54,260.31 C329.18,257.39 330.72,255.78 343.08,252.78 C355.44,249.78 373.98,243.27 398.7,242.31 C423.42,241.35 475.95,246.23 491.4,247.01" fill="none" stroke="#F8BC20" stroke-width="1.25"/>
<circle cx="315.27" cy="270.32" r="1.9" fill="#F8BC20"/>
<circle cx="324.54" cy="260.31" r="1.9" fill="#F8BC20"/>
<circle cx="343.08" cy="252.78" r="1.9" fill="#F8BC20"/>
<circle cx="398.7" cy="242.31" r="1.9" fill="#F8BC20"/>
<circle cx="491.4" cy="247.01" r="1.9" fill="#F8BC20"/>
<path d="M315.27,301.04 C316.81,298.8 319.91,290.25 324.54,287.62 C329.18,284.99 330.72,286.7 343.08,285.27 C355.44,283.83 373.98,281.52 398.7,279.03 C423.42,276.54 475.95,271.77 491.4,270.32" fill="none" stroke="#ED7D31" stroke-width="1.25"/>
<path d="M313.77,299.54 L316.77,302.54 M313.77,302.54 L316.77,299.54 M315.27,299.54 L315.27,302.54" stroke="#ED7D31" stroke-width="0.9"/>
<path d="M323.04,286.12 L326.04,289.12 M323.04,289.12 L326.04,286.12 M324.54,286.12 L324.54,289.12" stroke="#ED7D31" stroke-width="0.9"/>
<path d="M341.58,283.77 L344.58,286.77 M341.58,286.77 L344.58,283.77 M343.08,283.77 L343.08,286.77" stroke="#ED7D31" stroke-width="0.9"/>
<path d="M397.2,277.53 L400.2,280.53 M397.2,280.53 L400.2,277.53 M398.7,277.53 L398.7,280.53" stroke="#ED7D31" stroke-width="0.9"/>
<path d="M489.9,268.82 L492.9,271.82 M489.9,271.82 L492.9,268.82 M491.4,268.82 L491.4,271.82" stroke="#ED7D31" stroke-width="0.9"/>
<path d="M315.27,281.38 C316.81,282.23 319.91,285.11 324.54,286.44 C329.18,287.78 330.72,289.7 343.08,289.39 C355.44,289.07 373.98,286.88 398.7,284.56 C423.42,282.25 475.95,277.01 491.4,275.5" fill="none" stroke="#C5322D" stroke-width="1.25"/>
<path d="M313.77,279.88 L316.77,282.88 M313.77,282.88 L316.77,279.88" stroke="#C5322D" stroke-width="1"/>
<path d="M323.04,284.94 L326.04,287.94 M323.04,287.94 L326.04,284.94" stroke="#C5322D" stroke-width="1"/>
<path d="M341.58,287.89 L344.58,290.89 M341.58,290.89 L344.58,287.89" stroke="#C5322D" stroke-width="1"/>
<path d="M397.2,283.06 L400.2,286.06 M397.2,286.06 L400.2,283.06" stroke="#C5322D" stroke-width="1"/>
<path d="M489.9,274 L492.9,277 M489.9,277 L492.9,274" stroke="#C5322D" stroke-width="1"/>
<text x="410" y="191.2" text-anchor="middle" class="ti">LSVT (noiseP = 20%)</text>
<text x="403" y="340.1" text-anchor="middle" class="at">% of selected features</text>
<text transform="translate(286.7,258.6) rotate(-90)" text-anchor="middle" class="at st">Stability</text>
<line x1="498.4" y1="213.4" x2="510.7" y2="213.4" stroke="#2C4A8A" stroke-width="1.15"/>
<path d="M504.55,211.3 L506.65,213.4 L504.55,215.5 L502.45,213.4 Z" fill="#2C4A8A"/>
<text x="512.1" y="215.9" class="lg">Correl</text>
<line x1="498.4" y1="226.07" x2="510.7" y2="226.07" stroke="#5392D2" stroke-width="1.15"/>
<path d="M504.55,223.97 L506.65,226.07 L504.55,228.17 L502.45,226.07 Z" fill="#5392D2"/>
<text x="512.1" y="228.57" class="lg">InfoG</text>
<line x1="498.4" y1="238.74" x2="510.7" y2="238.74" stroke="#8DCA4E" stroke-width="1.15"/>
<path d="M504.55,236.74 L506.55,240.34 L502.55,240.34 Z" fill="#8DCA4E"/>
<text x="512.1" y="241.24" class="lg">GainR</text>
<line x1="498.4" y1="251.41" x2="510.7" y2="251.41" stroke="#5C8240" stroke-width="1.15"/>
<circle cx="504.55" cy="251.41" r="1.5" fill="#A9C49A" stroke="#5C8240" stroke-width="0.7"/>
<text x="512.1" y="253.91" class="lg">OneR</text>
<line x1="498.4" y1="264.08" x2="510.7" y2="264.08" stroke="#F8BC20" stroke-width="1.15"/>
<circle cx="504.55" cy="264.08" r="1.9" fill="#F8BC20"/>
<text x="512.1" y="266.58" class="lg">ReliefF</text>
<line x1="498.4" y1="276.75" x2="510.7" y2="276.75" stroke="#ED7D31" stroke-width="1.15"/>
<path d="M503.05,275.25 L506.05,278.25 M503.05,278.25 L506.05,275.25 M504.55,275.25 L504.55,278.25" stroke="#ED7D31" stroke-width="0.9"/>
<text x="512.1" y="279.25" class="lg">SVM-AW</text>
<line x1="498.4" y1="289.42" x2="510.7" y2="289.42" stroke="#C5322D" stroke-width="1.15"/>
<path d="M503.05,287.92 L506.05,290.92 M503.05,290.92 L506.05,287.92" stroke="#C5322D" stroke-width="1"/>
<text x="512.1" y="291.92" class="lg">SVM-RFE</text>
</svg>
</body></html>
